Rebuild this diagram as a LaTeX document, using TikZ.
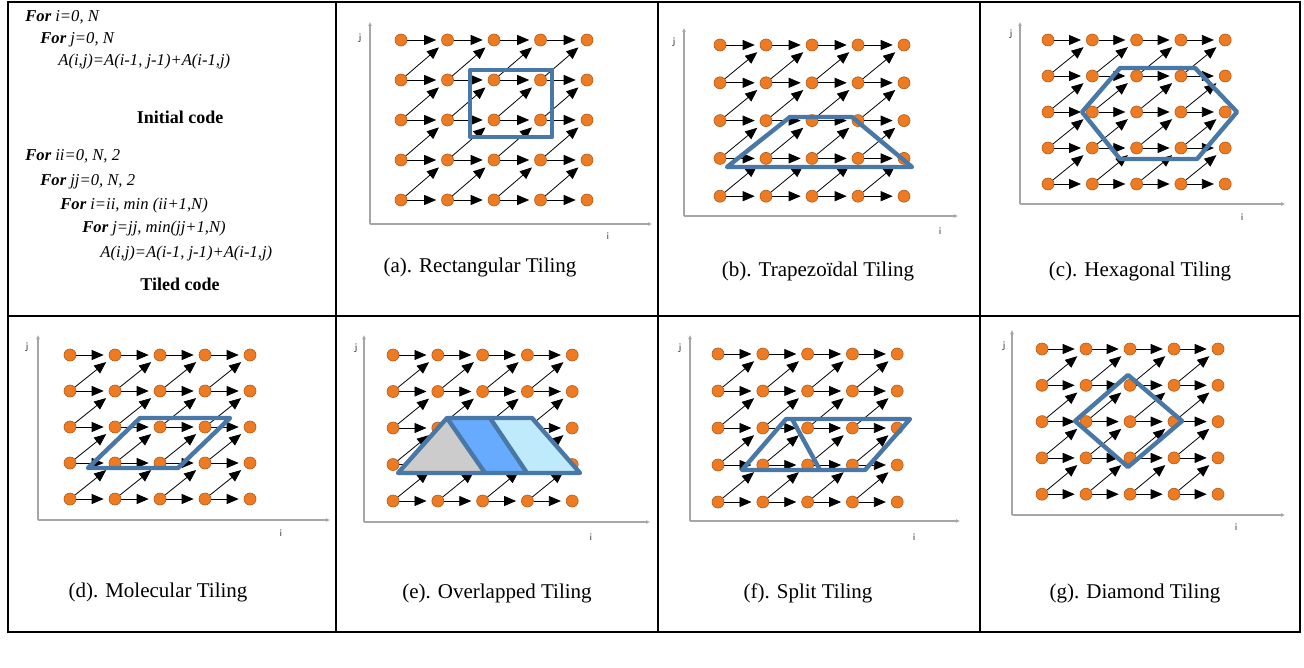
\documentclass[tikz,border=0pt]{standalone}
\usepackage{fontspec}
\setmainfont{Liberation Serif}
\usetikzlibrary{arrows.meta}
\definecolor{dotor}{HTML}{EE7A22}
\definecolor{tileb}{HTML}{4A78A6}
\tikzset{
  dot/.style={circle,minimum size=6pt,inner sep=0pt,fill=dotor,draw=dotor!75!black,line width=0.3pt},
  arr/.style={-{Triangle[length=6pt,width=5pt]},line width=0.4pt,shorten >=2.5pt},
  axisln/.style={gray!70,line width=0.6pt,-{Latex[length=2pt,width=2pt]}},
  tile/.style={tileb,line width=2.2pt,line join=round},
  captxt/.style={font=\fontsize{10.5}{12}\selectfont},
  code/.style={font=\fontsize{8.3}{10}\selectfont\itshape,anchor=base west,inner sep=0pt},
  ax/.style={font=\sffamily\fontsize{5}{6}\selectfont,gray!40!black}
}
\newcommand\gridpanel[9]{%
  \coordinate (#9-o) at (#1,#2);
  \coordinate (#9-t) at (#1,#3);
  \coordinate (#9-r) at (#4,#2);
  \draw[axisln] (#9-o) -- (#9-t);
  \draw[axisln] (#9-o) -- (#9-r);
  \foreach \c in {0,...,4}{\foreach \r in {0,...,4}{
    \node[dot] (#9-\c-\r) at ({#5+\c*#7},{#6+(4-\r)*#8}) {};}}
  \foreach \c [evaluate=\c as \n using int(\c+1)] in {0,...,3}{\foreach \r [evaluate=\r as \m using int(\r+1)] in {0,...,4}{
    \draw[arr] (#9-\c-\r) -- (#9-\n-\r);
    \ifnum\r<4 \draw[arr] (#9-\c-\r) -- (#9-\n-\m);\fi}}
}
\newcommand\fr{\textbf{For}}
\begin{document}
\begin{tikzpicture}[x=0.5pt,y=-0.5pt]
\useasboundingbox (0,0) rectangle (1304,668);
\fill[white] (0,0) rectangle (1304,668);
% table
\draw[line width=1pt] (8,2) rectangle (1300,632);
\draw[line width=1pt] (8,316) -- (1300,316);
\foreach \x in {336,658,980}{\draw[line width=1pt] (\x,2) -- (\x,632);}
% code
\node[code] (c1) at (25,22) {\fr\ i=0, N};
\node[code] (c2) at (40,44) {\fr\ j=0, N};
\node[code] (c3) at (58,66) {A(i,j)=A(i-1, j-1)+A(i-1,j)};
\node[font=\fontsize{9}{10}\selectfont\bfseries] (ic) at (180,117) {Initial code};
\node[code] (c4) at (25,161) {\fr\ ii=0, N, 2};
\node[code] (c5) at (40,185) {\fr\ jj=0, N, 2};
\node[code] (c6) at (60,209) {\fr\ i=ii, min (ii+1,N)};
\node[code] (c7) at (82,233) {\fr\ j=jj, min(jj+1,N)};
\node[code] (c8) at (100,257) {A(i,j)=A(i-1, j-1)+A(i-1,j)};
\node[font=\fontsize{9}{10}\selectfont\bfseries] (tc) at (180,284) {Tiled code};
% panels
\gridpanel{370}{224}{22}{652}{401}{40}{46.5}{40}{a}
\gridpanel{684}{216}{28}{958}{720}{45}{46}{37.8}{b}
\gridpanel{1020}{204}{22}{1285}{1048}{40}{44.3}{36}{c}
\gridpanel{38}{520}{335}{330}{70}{355}{45}{36}{d}
\gridpanel{364}{522}{335}{650}{393}{355}{44.8}{36.5}{e}
\gridpanel{690}{521}{335}{960}{718}{354}{44.8}{37}{f}
\gridpanel{1012}{515}{330}{1285}{1042}{349}{44}{36.3}{g}
% axis labels
\node[ax] (ja) at (360,38) {j}; \node[ax] (ia) at (608,236) {i};
\node[ax] (jb) at (674,42) {j}; \node[ax] (ib) at (940,231) {i};
\node[ax] (jc) at (1011,34) {j}; \node[ax] (ic2) at (1242,217) {i};
\node[ax] (jd) at (27,347) {j}; \node[ax] (id) at (281,533) {i};
\node[ax] (je) at (356,348) {j}; \node[ax] (ie) at (591,537) {i};
\node[ax] (jf) at (680,348) {j}; \node[ax] (if) at (914,537) {i};
\node[ax] (jg) at (1004,346) {j}; \node[ax] (ig) at (1236,527) {i};
% tiles
\draw[tile] (470,70) rectangle (552,137);
\draw[tile] (727,167) -- (790,117) -- (852,117) -- (912,167) -- cycle;
\draw[tile] (1082,112) -- (1120,68) -- (1195,68) -- (1237,112) -- (1197,159) -- (1120,159) -- cycle;
\draw[tile] (88,468) -- (140,418) -- (230,418) -- (178,468) -- cycle;
\fill[gray!40] (398,473) -- (447,418) -- (485,473) -- cycle;
\fill[blue!55!cyan!60!white] (447,418) -- (490,418) -- (527,473) -- (485,473) -- cycle;
\fill[cyan!25] (490,418) -- (532,418) -- (580,473) -- (527,473) -- cycle;
\draw[tile] (398,473) -- (447,418) -- (532,418) -- (580,473) -- cycle;
\draw[tile] (447,418) -- (485,473);
\draw[tile] (490,418) -- (527,473);
\draw[tile] (742,470) -- (786,419) -- (910,419) -- (865,470) -- cycle;
\draw[tile] (792,419) -- (820,470);
\draw[tile] (1075,421) -- (1128,375) -- (1182,421) -- (1128,467) -- cycle;
% captions
\node[captxt] (ca) at (480,267) {(a). Rectangular Tiling};
\node[captxt] (cb) at (818,271) {(b). Trapezoïdal Tiling};
\node[captxt] (cc) at (1140,271) {(c). Hexagonal Tiling};
\node[captxt] (cd) at (158,592) {(d). Molecular Tiling};
\node[captxt] (ce) at (497,593) {(e). Overlapped Tiling};
\node[captxt] (cf) at (808,593) {(f). Split Tiling};
\node[captxt] (cg) at (1135,593) {(g). Diamond Tiling};
\end{tikzpicture}
\end{document}
